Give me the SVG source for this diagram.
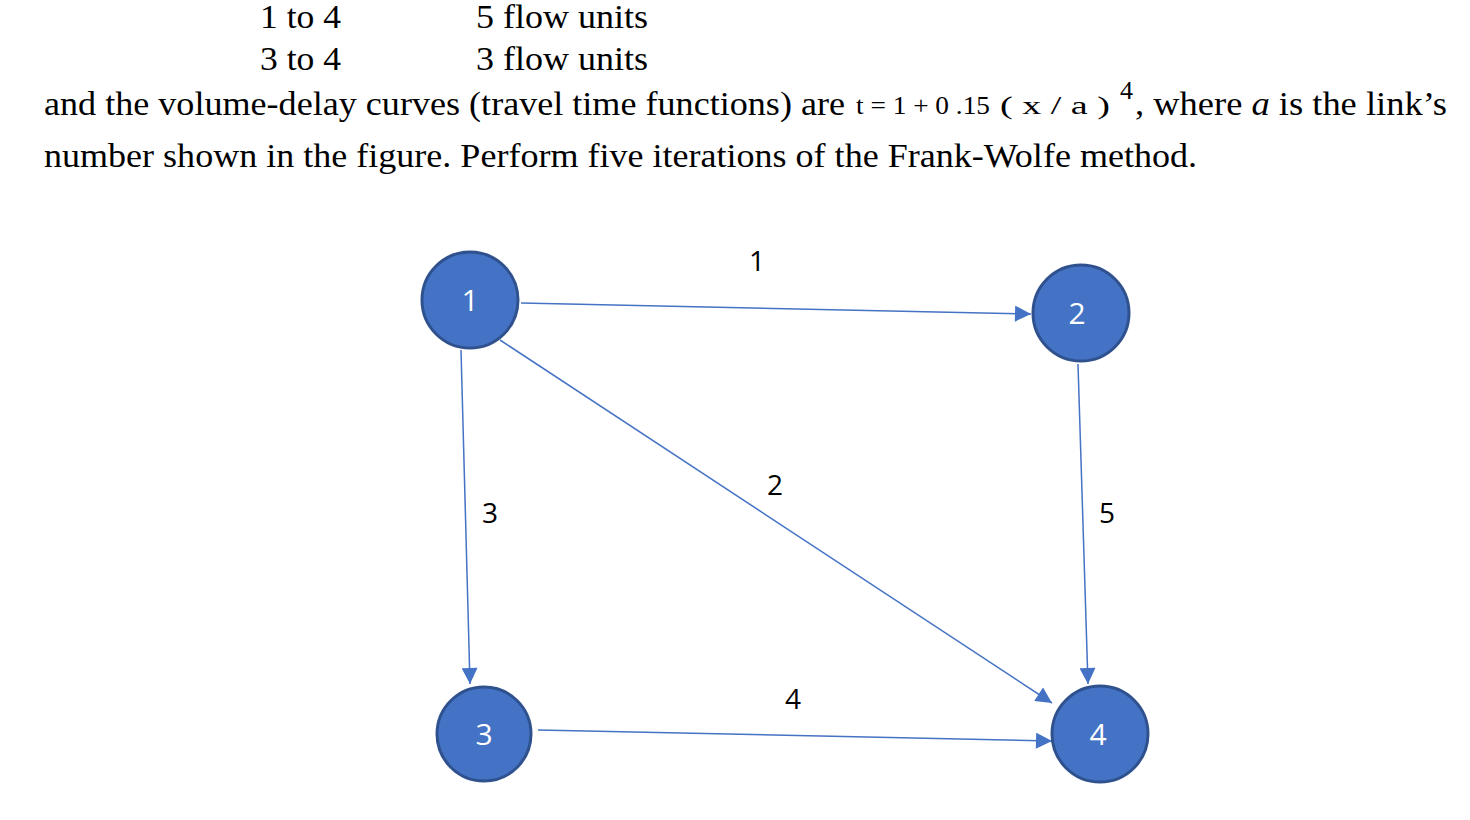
<svg xmlns="http://www.w3.org/2000/svg" width="1470" height="820" viewBox="0 0 1470 820">
<style>
.t{font-family:"Liberation Serif",serif;font-size:33px;fill:#000}
.f{font-family:"Liberation Serif",serif;font-size:26px;fill:#000}
.n{font-family:"Open Sans","Liberation Sans",sans-serif;font-size:30px;fill:#fff;text-anchor:middle}
.l{font-family:"Open Sans","Liberation Sans",sans-serif;font-size:28px;fill:#000;text-anchor:middle}
circle{fill:#4472C4;stroke:#2F528F;stroke-width:3}
.e{stroke:#4472C4;stroke-width:1.5;fill:none;marker-end:url(#a)}
</style>
<defs><marker id="a" viewBox="0 0 10 10" refX="10" refY="5" markerWidth="18" markerHeight="16" markerUnits="userSpaceOnUse" orient="auto"><path d="M0,0L10,5L0,10z" fill="#4472C4"/></marker></defs>
<text class="t" x="260" y="28" textLength="81" lengthAdjust="spacingAndGlyphs">1 to 4</text><text class="t" x="476" y="28" textLength="172" lengthAdjust="spacingAndGlyphs">5 flow units</text>
<text class="t" x="260" y="70" textLength="81" lengthAdjust="spacingAndGlyphs">3 to 4</text><text class="t" x="476" y="70" textLength="172" lengthAdjust="spacingAndGlyphs">3 flow units</text>
<text class="t" x="44" y="115" textLength="801" lengthAdjust="spacingAndGlyphs">and the volume-delay curves (travel time functions) are</text>
<text class="f" x="856" y="114" textLength="134" lengthAdjust="spacingAndGlyphs" font-weight="300">t  =  1 + 0 .15</text>
<text class="f" x="1000" y="114" textLength="110" lengthAdjust="spacingAndGlyphs">( x  /  a )</text>
<text class="f" x="1120" y="99" font-size="13">4</text>
<text class="t" x="1135" y="115" textLength="312" lengthAdjust="spacingAndGlyphs">, where <tspan font-style="italic">a</tspan> is the link’s</text>
<text class="t" x="44" y="167" textLength="1153" lengthAdjust="spacingAndGlyphs">number shown in the figure. Perform five iterations of the Frank-Wolfe method.</text>
<g id="connectors">
<line class="e" x1="521" y1="303" x2="1031" y2="314"/>
<line class="e" x1="500" y1="340" x2="1052" y2="703"/>
<line class="e" x1="461" y1="350" x2="470" y2="684"/>
<line class="e" x1="1078" y1="364" x2="1088" y2="684"/>
<line class="e" x1="538" y1="730" x2="1052" y2="741"/>
<text class="l" x="757" y="271">1</text>
<text class="l" x="775" y="495">2</text>
<text class="l" x="490" y="523">3</text>
<text class="l" x="793" y="709">4</text>
<text class="l" x="1107" y="523">5</text>
</g>
<g id="n1"><circle cx="470" cy="300" r="48"/><text class="n" x="470" y="311">1</text></g>
<g id="n2"><circle cx="1081" cy="313" r="48"/><text class="n" x="1077" y="324">2</text></g>
<g id="n3"><circle cx="484" cy="734" r="47"/><text class="n" x="484" y="745">3</text></g>
<g id="n4"><circle cx="1100" cy="734" r="48"/><text class="n" x="1098" y="745">4</text></g>
</svg>
